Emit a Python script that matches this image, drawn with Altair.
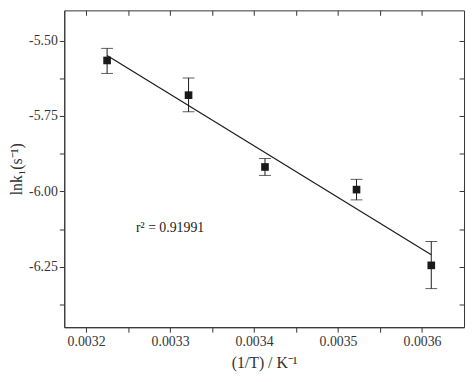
import altair as alt
import pandas as pd

# data
inv_T = [0.003225, 0.003322, 0.003413, 0.003522, 0.003611]
ln_k = [-5.566, -5.681, -5.919, -5.994, -6.245]
err_hi = [-5.526, -5.624, -5.891, -5.960, -6.166]
err_lo = [-5.609, -5.736, -5.947, -6.028, -6.322]

x_ticks = [0.0032, 0.00325, 0.0033, 0.00335, 0.0034, 0.00345, 0.0035, 0.00355, 0.0036]
y_ticks = [-5.5, -5.625, -5.75, -5.875, -6.0, -6.125, -6.25, -6.375]
x_domain = [0.003174, 0.00365]
y_domain = [-6.45, -5.40]

ann_x = [0.0033]
ann_y = [-6.12]
ann_text = ["r\u00b2 = 0.91991"]

df = pd.DataFrame({"x": inv_T, "y": ln_k, "hi": err_hi, "lo": err_lo})
ann = pd.DataFrame({"x": ann_x, "y": ann_y, "t": ann_text})

FONT = "Liberation Serif"
INK = "#1a1a1a"
AX = "#333333"

xs = alt.Scale(domain=x_domain, nice=False, zero=False)
ys = alt.Scale(domain=y_domain, nice=False, zero=False)

x_lab = "abs(datum.value*10000 - round(datum.value*10000)) < 0.01 ? format(datum.value, '.4f') : ''"
y_lab = "abs(datum.value*4 - round(datum.value*4)) < 0.01 ? replace(format(datum.value, '.2f'), '\u2212', '-') : ''"

base = alt.Chart(df)

points = base.mark_square(size=60, color=INK, opacity=1).encode(
    x=alt.X("x:Q", scale=xs, axis=alt.Axis(
        orient="bottom", values=x_ticks, labelExpr=x_lab, title="(1/T) / K\u207b\u00b9",
        grid=False, tickSize=5, labelFontSize=14, titleFontSize=16, labelPadding=3,
        titlePadding=6, labelFont=FONT, titleFont=FONT, titleFontWeight="normal",
        labelColor=AX, titleColor=AX, domainColor=AX, tickColor=AX, labelFlush=False)),
    y=alt.Y("y:Q", scale=ys, axis=alt.Axis(
        orient="left", values=y_ticks, labelExpr=y_lab, title="lnk\u2081(s\u207b\u00b9)",
        grid=False, tickSize=5, labelFontSize=14, titleFontSize=16, labelPadding=2,
        titlePadding=4, labelFont=FONT, titleFont=FONT, titleFontWeight="normal",
        labelColor=AX, titleColor=AX, domainColor=AX, tickColor=AX, labelFlush=False)),
)

line = base.transform_regression("x", "y").mark_line(color=INK, strokeWidth=1.2).encode(
    x=alt.X("x:Q", scale=xs, axis=alt.Axis(
        orient="top", values=x_ticks, labels=False, title=None, grid=False,
        domain=False, tickSize=5, offset=-5, tickColor=AX)),
    y=alt.Y("y:Q", scale=ys, axis=alt.Axis(
        orient="right", values=y_ticks, labels=False, title=None, grid=False,
        domain=False, tickSize=5, offset=-5, tickColor=AX)),
)

bars = base.mark_rule(color=INK, strokeWidth=1).encode(
    x=alt.X("x:Q", scale=xs, axis=None),
    y=alt.Y("lo:Q", scale=ys, axis=None),
    y2="hi:Q",
)

caps_hi = base.mark_tick(color=INK, orient="horizontal", size=12, thickness=1).encode(
    x=alt.X("x:Q", scale=xs, axis=None),
    y=alt.Y("hi:Q", scale=ys, axis=None),
)
caps_lo = base.mark_tick(color=INK, orient="horizontal", size=12, thickness=1).encode(
    x=alt.X("x:Q", scale=xs, axis=None),
    y=alt.Y("lo:Q", scale=ys, axis=None),
)

text = alt.Chart(ann).mark_text(font=FONT, fontSize=14, color=INK, align="center", baseline="middle").encode(
    x=alt.X("x:Q", scale=xs, axis=None),
    y=alt.Y("y:Q", scale=ys, axis=None),
    text="t:N",
)

chart = alt.layer(points, line, bars, caps_hi, caps_lo, text).resolve_axis(
    x="independent", y="independent"
).properties(
    width=405, height=321,
    autosize=alt.AutoSizeParams(type="none"),
    padding={"left": 57, "top": 0, "right": 2, "bottom": 45},
    background="white",
).configure_view(stroke=AX, strokeWidth=1)

chart.save("out.html", embed_options={"renderer": "svg", "actions": False})
